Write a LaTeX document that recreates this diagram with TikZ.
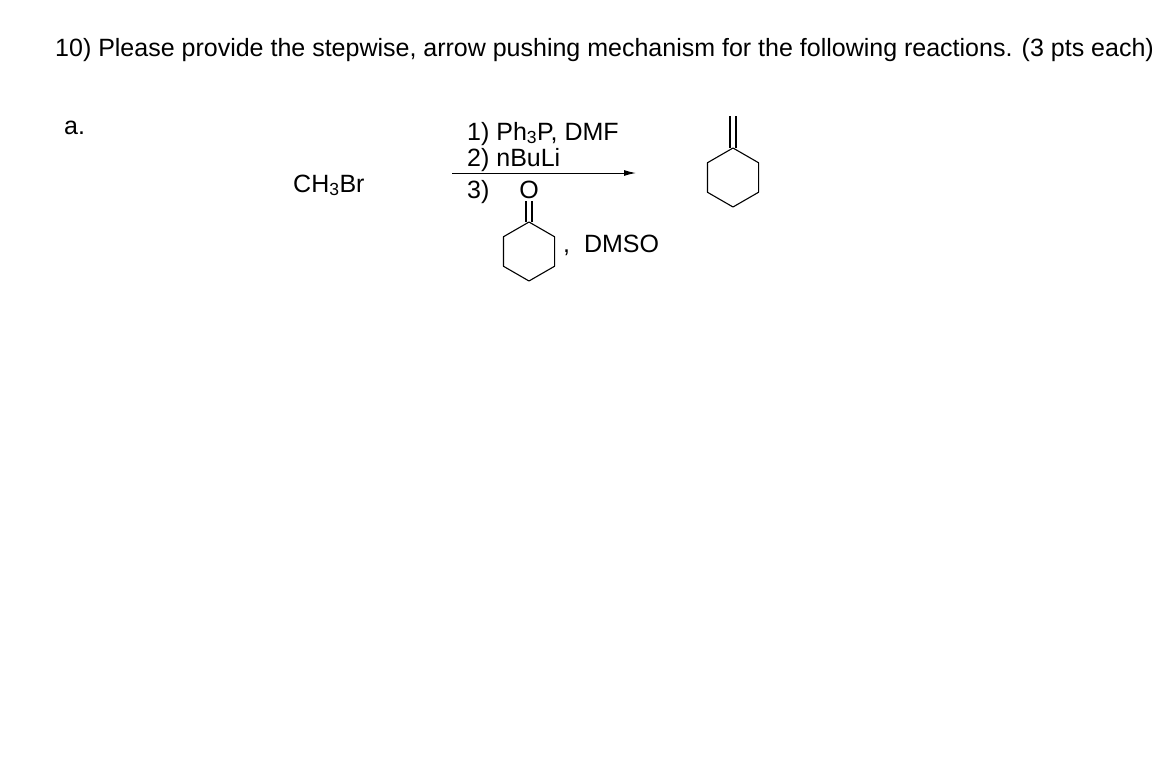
\documentclass[tikz,border=0pt]{standalone}
\usepackage{fontspec}
\setmainfont{Liberation Sans}
\usetikzlibrary{arrows.meta}
\tikzset{txt/.style={inner sep=0pt,anchor=base west,font=\fontsize{25}{28}\selectfont},
bond/.style={line width=1.1pt,line join=round}}
\begin{document}
\begin{tikzpicture}[x=1pt,y=-1pt]
\useasboundingbox[fill=white] (0,0) rectangle (1175,777);
\node[txt] (title) at (55,56) {10) Please provide the stepwise, arrow pushing mechanism for the following reactions. (3 pts each)};
\node[txt] (a) at (64,134) {a.};
\node[txt] (sm) at (293,192) {CH\textsubscript{3}Br};
\node[txt] (r1) at (467,140) {1) Ph\textsubscript{3}P, DMF};
\node[txt] (r2) at (467,166) {2) nBuLi};
\node[txt] (r3) at (467,198) {3)};
\node[txt] (dmso) at (563,252) {,\ \ DMSO};
\coordinate (as) at (452,173);
\coordinate (ae) at (636,173);
\draw[line width=1pt,-{Latex[length=12pt,width=6pt]}] (as) -- (ae);
% product
\coordinate (pc) at (733,177.5);
\draw[bond] (pc) ++(90:29.5) -- ++(-30:29.5) -- ++(-90:29.5) -- ++(-150:29.5) -- ++(150:29.5) -- ++(90:29.5) -- cycle;
\draw[bond] (730,148) -- (730,116) (736,148) -- (736,116);
% cyclohexanone
\coordinate (kc) at (529,251.5);
\draw[bond] (kc) ++(90:29.5) -- ++(-30:29.5) -- ++(-90:29.5) -- ++(-150:29.5) -- ++(150:29.5) -- ++(90:29.5) -- cycle;
\node[inner sep=0pt,font=\fontsize{25}{28}\selectfont] (O) at (529,190) {O};
\draw[bond] (526,222) -- (526,201) (532,222) -- (532,201);
\end{tikzpicture}
\end{document}
